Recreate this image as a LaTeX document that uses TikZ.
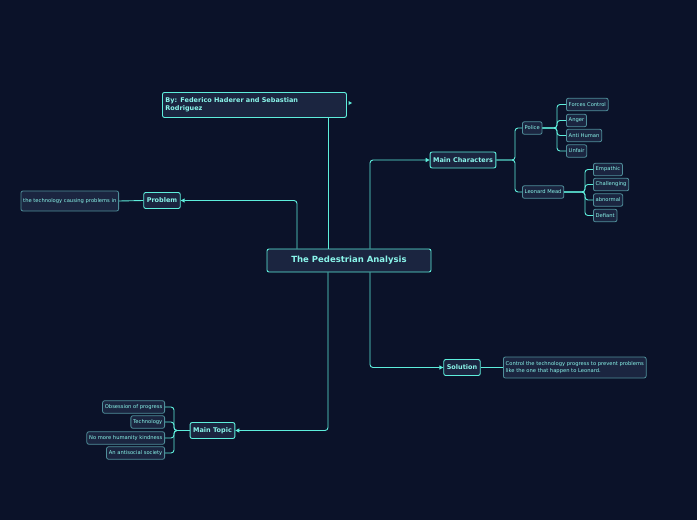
\documentclass[tikz,border=0pt]{standalone}
\usepackage{fontspec}
\setmainfont{DejaVu Sans}
\usetikzlibrary{arrows.meta}
\definecolor{bg}{HTML}{0B1229}
\definecolor{boxf}{HTML}{1B2540}
\definecolor{cy}{HTML}{5EEEDC}
\definecolor{cyt}{HTML}{8AF5EA}
\definecolor{subb}{HTML}{4F8E9A}
\tikzset{
 main/.style={draw=cy,line width=0.9pt,fill=boxf,rounded corners=2pt,text=cyt,font=\bfseries\fontsize{6.5}{7.5}\selectfont,inner sep=3pt,minimum height=16pt},
 big/.style={main,font=\bfseries\fontsize{8.5}{10}\selectfont,minimum height=23pt,minimum width=164pt},
 leaf/.style={draw=subb,line width=0.8pt,fill=boxf,rounded corners=2pt,text=cyt,font=\fontsize{5.2}{6.2}\selectfont,inner sep=2.3pt,minimum height=12.5pt},
 con/.style={draw=cy,line width=0.9pt,rounded corners=3pt},
 arr/.style={con,-{Triangle[length=4pt,width=4pt]}},
 x=1pt,y=-1pt
}
\begin{document}
\begin{tikzpicture}
\fill[bg] (0,0) rectangle (697,520);
\useasboundingbox (0,0) rectangle (697,520);
\node[big] (c) at (349,260.5) {The Pedestrian Analysis};
\node[main,anchor=north west,align=left,text width=178pt,minimum height=25pt] (au) at (162,92) {By: Federico Haderer and Sebastian\\Rodriguez};
\fill[cy] (348.5,101) -- (352,103) -- (348.5,105) -- cycle;
\node[main] (pr) at (162,200.5) {Problem};
\node[leaf,anchor=east,minimum height=20pt] (prc) at (119,201) {the technology causing problems in};
\node[main] (mc) at (463,160) {Main Characters};
\node[leaf,anchor=west] (po) at (522,128) {Police};
\node[leaf,anchor=west] (lm) at (522,192) {Leonard Mead};
\node[leaf,anchor=west] (p1) at (566,104.5) {Forces Control};
\node[leaf,anchor=west] (p2) at (566,120.5) {Anger};
\node[leaf,anchor=west] (p3) at (566,135.5) {Anti Human};
\node[leaf,anchor=west] (p4) at (566,151) {Unfair};
\node[leaf,anchor=west] (l1) at (593,169.5) {Empathic};
\node[leaf,anchor=west] (l2) at (593,184.5) {Challenging};
\node[leaf,anchor=west] (l3) at (593,200) {abnormal};
\node[leaf,anchor=west] (l4) at (593,215.5) {Defiant};
\node[main] (so) at (462,367.5) {Solution};
\node[leaf,anchor=west,align=left,minimum height=21pt] (soc) at (503,367.5) {Control the technology progress to prevent problems\\like the one that happen to Leonard.};
\node[main] (mt) at (212.5,430.5) {Main Topic};
\node[leaf,anchor=east] (m1) at (165,407) {Obsession of progress};
\node[leaf,anchor=east] (m2) at (165,422) {Technology};
\node[leaf,anchor=east] (m3) at (165,438) {No more humanity kindness};
\node[leaf,anchor=east] (m4) at (165,453) {An antisocial society};
% connectors
\draw[con] (au.south -| 328,0) -- (c.north -| 328,0);
\draw[arr] (c.south -| 328,0) |- (mt.east);
\draw[arr] (c.north -| 297,0) |- (pr.east);
\draw[con] (pr.west) -- (prc.east);
\draw[arr] (c.north -| 370,0) |- (mc.west);
\draw[arr] (c.south -| 370,0) |- (so.west);
\draw[con] (so.east) -- (soc.west);
\foreach \n in {po,lm} \draw[con] (mc.east) -- (515,160) |- (\n.west);
\foreach \n in {p1,p2,p3,p4} \draw[con] (po.east) -- (557,128) |- (\n.west);
\foreach \n in {l1,l2,l3,l4} \draw[con] (lm.east) -- (585,192) |- (\n.west);
\foreach \n in {m1,m2,m3,m4} \draw[con] (mt.west) -- (174,430.5) |- (\n.east);
\end{tikzpicture}
\end{document}
